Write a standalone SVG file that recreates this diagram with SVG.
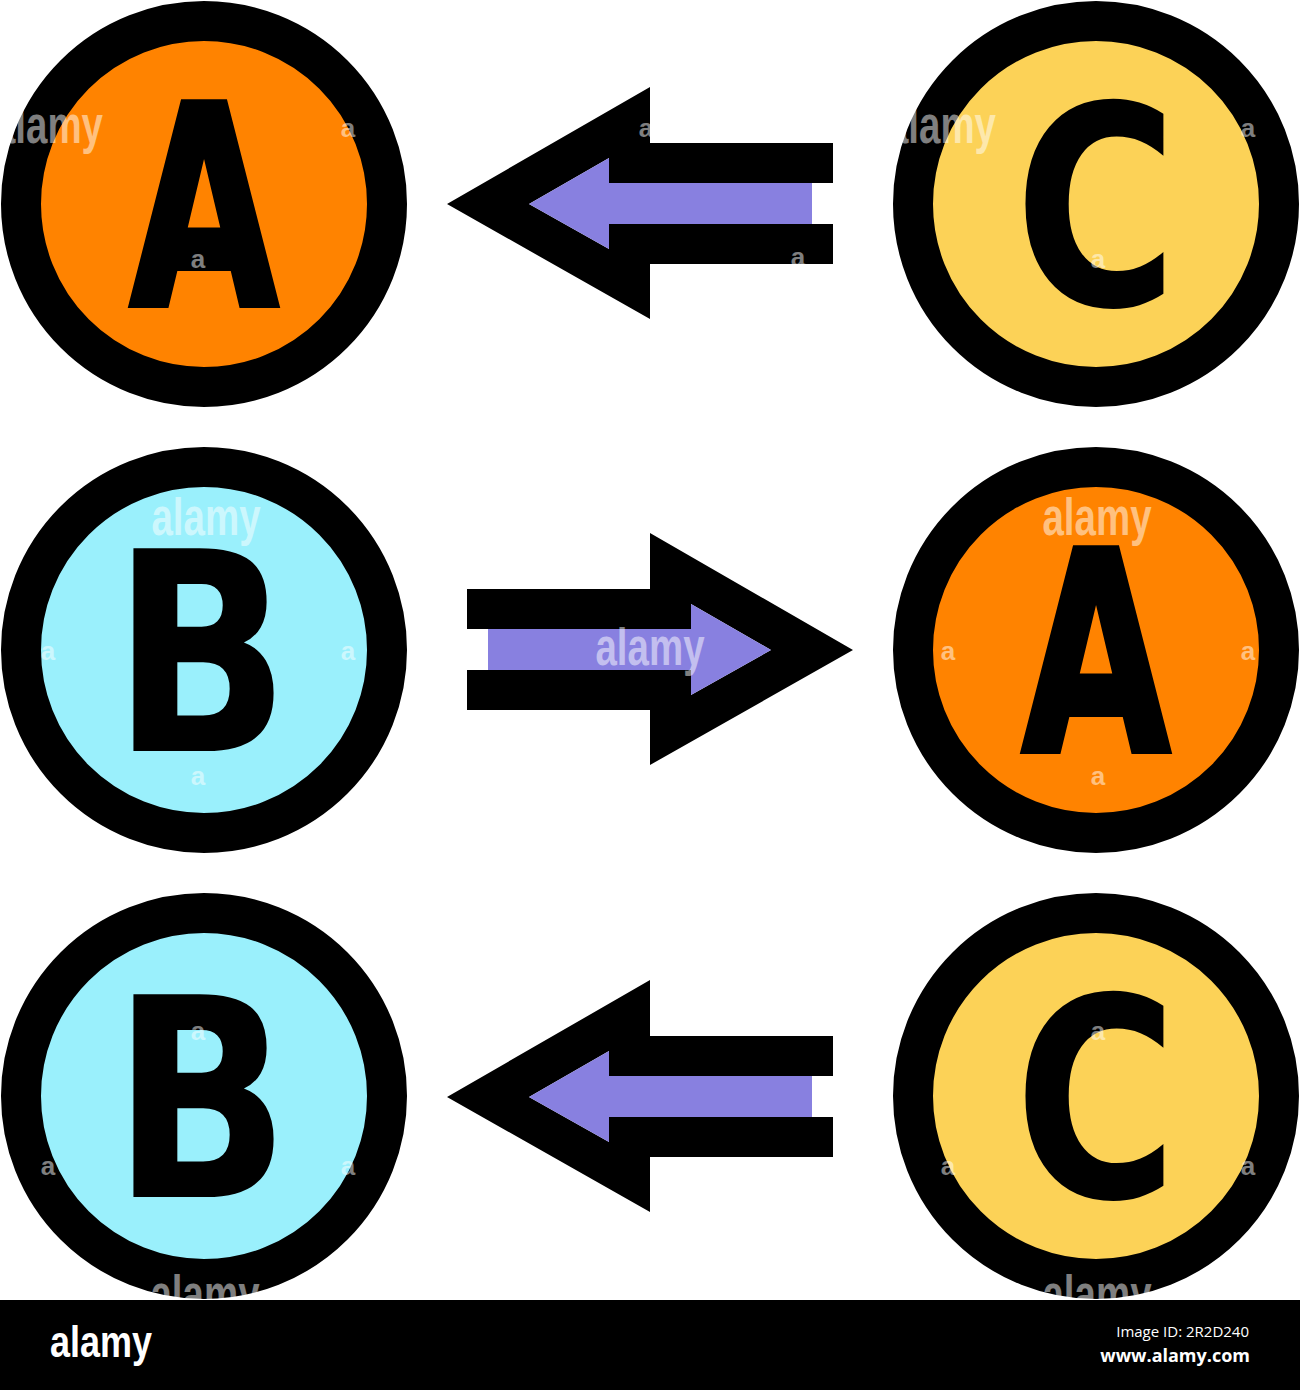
<svg xmlns="http://www.w3.org/2000/svg" width="1300" height="1390" viewBox="0 0 1300 1390">
<style>
.ring{stroke:#000;stroke-width:40}
.a{fill:#FF8300}.b{fill:#9AF0FC}.c{fill:#FCD257}
.ltr{font-family:"DejaVu Sans",sans-serif;font-weight:bold;font-size:278px;fill:#000;text-anchor:middle}
.thick{stroke:#000;stroke-width:6}
.blk{fill:#000}.pur{fill:#8880E0}
.wm{font-family:"Liberation Sans",sans-serif;font-weight:bold;font-size:52px;fill:#fff;fill-opacity:0.5}
.wa{font-family:"Liberation Sans",sans-serif;font-weight:bold;font-size:26px;fill:#fff;fill-opacity:0.5;text-anchor:middle}
.ft{font-family:"Open Sans","DejaVu Sans",sans-serif;fill:#fff}
</style>
<defs>
<g id="arrowL">
<polygon class="blk" points="447,0 650,-117 650,-61 833,-61 833,-21 609,-21 609,-46 529,0 609,45 609,20 833,20 833,60 650,60 650,115"/>
<polygon class="pur" points="529,0 609,-46 609,-21 812,-21 812,20 609,20 609,45"/>
</g>
</defs>
<rect width="1300" height="1390" fill="#fff"/>
<g id="node-A1"><circle class="ring a" cx="204" cy="204" r="183"/><text class="ltr thick" transform="translate(204,305) scale(0.69,1)">A</text></g>
<g id="node-C1"><circle class="ring c" cx="1096" cy="204" r="183"/><text class="ltr" transform="translate(1096,305) scale(0.8,1)">C</text></g>
<g id="node-B2"><circle class="ring b" cx="204" cy="650" r="183"/><text class="ltr" transform="translate(201,751) scale(0.84,1)">B</text></g>
<g id="node-A2"><circle class="ring a" cx="1096" cy="650" r="183"/><text class="ltr thick" transform="translate(1096,751) scale(0.69,1)">A</text></g>
<g id="node-B3"><circle class="ring b" cx="204" cy="1096" r="183"/><text class="ltr" transform="translate(201,1197) scale(0.84,1)">B</text></g>
<g id="node-C3"><circle class="ring c" cx="1096" cy="1096" r="183"/><text class="ltr" transform="translate(1096,1197) scale(0.8,1)">C</text></g>
<g id="connectors">
<use href="#arrowL" transform="translate(0,204)"/>
<use href="#arrowL" transform="translate(1300,650) scale(-1,1)"/>
<use href="#arrowL" transform="translate(0,1097)"/>
</g>
<g id="watermarks">
<text class="wm" transform="translate(103,143) scale(0.74,1)" text-anchor="end">alamy</text>
<text class="wm" transform="translate(996,143) scale(0.74,1)" text-anchor="end">alamy</text>
<text class="wm" transform="translate(206,535) scale(0.74,1)" text-anchor="middle">alamy</text>
<text class="wm" transform="translate(1097,535) scale(0.74,1)" text-anchor="middle">alamy</text>
<text class="wm" transform="translate(650,665) scale(0.74,1)" text-anchor="middle">alamy</text>
<text class="wm" transform="translate(205,1312) scale(0.74,1)" text-anchor="middle">alamy</text>
<text class="wm" transform="translate(1097,1312) scale(0.74,1)" text-anchor="middle">alamy</text>
<text class="wa" x="198" y="268">a</text>
<text class="wa" x="348" y="137">a</text>
<text class="wa" x="1098" y="268">a</text>
<text class="wa" x="1248" y="137">a</text>
<text class="wa" x="646" y="137">a</text>
<text class="wa" x="798" y="266">a</text>
<text class="wa" x="48" y="660">a</text>
<text class="wa" x="348" y="660">a</text>
<text class="wa" x="198" y="785">a</text>
<text class="wa" x="948" y="660">a</text>
<text class="wa" x="1248" y="660">a</text>
<text class="wa" x="1098" y="785">a</text>
<text class="wa" x="198" y="1040">a</text>
<text class="wa" x="1098" y="1040">a</text>
<text class="wa" x="48" y="1175">a</text>
<text class="wa" x="348" y="1175">a</text>
<text class="wa" x="948" y="1175">a</text>
<text class="wa" x="1248" y="1175">a</text>
</g>
<g id="footer">
<rect x="0" y="1300" width="1300" height="90" fill="#000"/>
<text transform="translate(50,1357) scale(0.8,1)" font-family="Liberation Sans,sans-serif" font-weight="bold" font-size="45" fill="#fff">alamy</text>
<text class="ft" x="1249" y="1337" font-size="15" text-anchor="end">Image ID: 2R2D240</text>
<text class="ft" x="1250" y="1362" font-size="18" font-weight="bold" text-anchor="end">www.alamy.com</text>
</g>
</svg>
